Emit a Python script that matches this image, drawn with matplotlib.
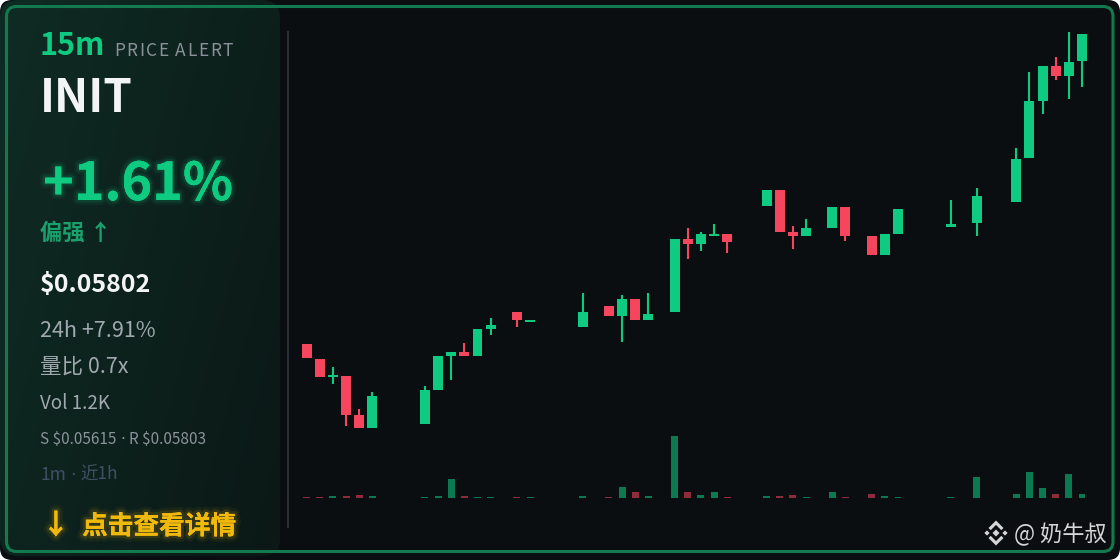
import numpy as np
import matplotlib
matplotlib.use("Agg")
import matplotlib.pyplot as plt
from matplotlib.patches import FancyBboxPatch, Polygon
import matplotlib.patheffects as pe

# 1m candles over the last hour, minute index (missing minutes = no trades)
minutes = [0, 1, 2, 3, 4, 5, 9, 10, 11, 12, 13, 14, 16, 17, 21, 23, 24, 25, 26, 28,
           29, 30, 31, 32, 35, 36, 37, 38, 40, 41, 43, 44, 45, 49, 51, 54, 55, 56, 57, 58, 59]
opens = [0.055850, 0.055747, 0.055619, 0.055628, 0.055353, 0.055264, 0.055292, 0.055530, 0.055764, 0.055794,
         0.055764, 0.055957, 0.056074, 0.056006, 0.055971, 0.056118, 0.056046, 0.056163, 0.056016, 0.056074,
         0.056587, 0.056548, 0.056606, 0.056618, 0.056814, 0.056928, 0.056634, 0.056606, 0.056664, 0.056811,
         0.056604, 0.056473, 0.056620, 0.056667, 0.056695, 0.056842, 0.057150, 0.057551, 0.057798, 0.057726,
         0.057831]
highs = [0.055850, 0.055747, 0.055689, 0.055628, 0.055395, 0.055514, 0.055556, 0.055766, 0.055794, 0.055855,
         0.055955, 0.056032, 0.056074, 0.056013, 0.056207, 0.056118, 0.056193, 0.056163, 0.056207, 0.056587,
         0.056664, 0.056634, 0.056692, 0.056618, 0.056928, 0.056928, 0.056678, 0.056723, 0.056811, 0.056811,
         0.056604, 0.056618, 0.056795, 0.056856, 0.056944, 0.057222, 0.057754, 0.057798, 0.057859, 0.058034,
         0.058020]
lows = [0.055752, 0.055617, 0.055570, 0.055278, 0.055264, 0.055264, 0.055292, 0.055530, 0.055600, 0.055764,
        0.055764, 0.055913, 0.055971, 0.056002, 0.055971, 0.056046, 0.055866, 0.056016, 0.056016, 0.056074,
        0.056443, 0.056503, 0.056606, 0.056487, 0.056814, 0.056636, 0.056515, 0.056606, 0.056664, 0.056573,
        0.056473, 0.056473, 0.056620, 0.056667, 0.056606, 0.056842, 0.057150, 0.057462, 0.057696, 0.057563,
        0.057651]
closes = [0.055752, 0.055617, 0.055633, 0.055353, 0.055264, 0.055486, 0.055528, 0.055766, 0.055794, 0.055764,
          0.055955, 0.055983, 0.056018, 0.056012, 0.056072, 0.056046, 0.056163, 0.056016, 0.056058, 0.056587,
          0.056548, 0.056618, 0.056618, 0.056562, 0.056928, 0.056636, 0.056606, 0.056662, 0.056811, 0.056606,
          0.056473, 0.056618, 0.056795, 0.056690, 0.056886, 0.057147, 0.057549, 0.057798, 0.057726, 0.057826,
          0.058020]
volumes = [26, 14, 46, 46, 66, 34, 14, 40, 374, 34, 14, 26, 14, 26, 46, 14, 226, 114, 34, 1234,
           114, 60, 126, 20, 46, 46, 54, 26, 126, 20, 74, 34, 14, 14, 420, 86, 526, 194, 86, 474,
           86]

GREEN = "#0ecb81"
RED = "#f6465d"
VGREEN = "#0b7a50"
VRED = "#8f2c3b"
BG = "#0b0e11"
YEL = "#f0b90b"

fig = plt.figure(figsize=(11.2, 5.6), dpi=100)
fig.patch.set_facecolor("white")

# background / decoration layer in pixel coords
bg = fig.add_axes([0, 0, 1, 1])
bg.set_xlim(0, 1120)
bg.set_ylim(560, 0)
bg.axis("off")

bg.add_patch(FancyBboxPatch((0, 0), 1120, 560, boxstyle="round,pad=0,rounding_size=12",
                            fc=BG, ec="none", zorder=0))

# left panel with a soft green gradient
panel = FancyBboxPatch((0, 0), 280, 556, boxstyle="round,pad=0,rounding_size=18",
                       fc="none", ec="none", zorder=1)
bg.add_patch(panel)
gx, gy = np.meshgrid(np.linspace(0, 1, 140), np.linspace(0, 1, 280))
t = np.clip(gx * 0.65 + gy * 0.35, 0, 1)[..., None]
c0 = np.array([0x0f, 0x2c, 0x24]) / 255
c1 = np.array([0x0b, 0x18, 0x16]) / 255
img = c0 * (1 - t) + c1 * t
im = bg.imshow(img, extent=(0, 280, 556, 0), aspect="auto", zorder=1)
im.set_clip_path(panel)
bg.set_xlim(0, 1120)
bg.set_ylim(560, 0)

# green card border
bg.add_patch(FancyBboxPatch((6.5, 6.5), 1106.5, 545, boxstyle="round,pad=0,rounding_size=10",
                            fc="none", ec="#137a50", lw=2.2, zorder=3))
# separator
bg.plot([288, 288], [32, 527], color="#2a2e35", lw=1.5, zorder=2)

cjk = ["Noto Sans CJK SC", "DejaVu Sans"]

fig.canvas.draw()
r = fig.canvas.get_renderer()


def run_text(x, y, parts, gap=0.0, **kw):
    # draw pieces one after another on the same baseline
    for s, fam in parts:
        if s == " ":
            x += kw.get("fontsize", 12) * 0.35
            continue
        tt = bg.text(x, y, s, family=fam, va="baseline", zorder=4, **kw)
        x += tt.get_window_extent(r).width + gap
    return x


bg.text(40, 55, "15m", color=GREEN, fontsize=22, fontweight="bold", family=cjk, va="baseline", zorder=4)
run_text(114, 56, [(ch, cjk) for ch in "PRICE ALERT"], gap=1.6, color="#8a9199", fontsize=12.5)

bg.text(40, 112, "INIT", color="#f2f4f5", fontsize=33, fontweight="bold", family=cjk, va="baseline", zorder=4)

glow_g = [pe.withStroke(linewidth=7, foreground=GREEN, alpha=0.07),
          pe.withStroke(linewidth=3.5, foreground=GREEN, alpha=0.12), pe.Normal()]
bg.text(43, 200, "+1.61%", color=GREEN, fontsize=37.5, fontweight="bold", family=cjk,
        va="baseline", zorder=4, path_effects=glow_g)
bg.text(40, 240, "偏强 ↑", color="#1aa06c", fontsize=16, fontweight="bold", family=cjk, va="baseline", zorder=4)
bg.text(40, 292, "\\$0.05802", color="#f2f4f5", fontsize=18, fontweight="bold", family=cjk, va="baseline", zorder=4)
bg.text(40, 337, "24h +7.91%", color="#a0a8b0", fontsize=15.5, family=cjk, va="baseline", zorder=4)
bg.text(40, 373, "量比 0.7x", color="#a0a8b0", fontsize=15.5, family=cjk, va="baseline", zorder=4)
bg.text(40, 409, "Vol 1.2K", color="#a0a8b0", fontsize=13.5, family=cjk, va="baseline", zorder=4)
run_text(40, 444, [("S \\$0.05615", cjk), (" ", cjk), ("·", ["DejaVu Sans"]), (" ", cjk), ("R \\$0.05803", cjk)],
         color="#8a929a", fontsize=11)
run_text(40, 480, [("1m", cjk), (" ", cjk), ("·", ["DejaVu Sans"]), (" ", cjk), ("近1h", cjk)],
         color="#3f5066", fontsize=12.5)

glow_y = [pe.withStroke(linewidth=8, foreground=YEL, alpha=0.06),
          pe.withStroke(linewidth=4, foreground=YEL, alpha=0.12), pe.Normal()]
bg.text(42, 534, "↓", color=YEL, fontsize=20, fontweight="bold", family=cjk, va="baseline",
        zorder=4, path_effects=glow_y)
bg.text(82, 534, "点击查看详情", color=YEL, fontsize=18.5, fontweight="bold", family=cjk,
        va="baseline", zorder=4, path_effects=glow_y)

# watermark with a small exchange logo
lx, ly = 996, 533
WM = "#d6d6d6"


def diamond(cx, cy, h):
    return Polygon([(cx, cy - h), (cx + h, cy), (cx, cy + h), (cx - h, cy)], closed=True, fc=WM, ec="none", zorder=4)


bg.add_patch(diamond(lx, ly, 3.5))
bg.add_patch(diamond(lx - 9, ly, 2.6))
bg.add_patch(diamond(lx + 9, ly, 2.6))
bg.add_patch(Polygon([(lx - 7.5, ly - 5), (lx, ly - 12.5), (lx + 7.5, ly - 5), (lx + 5.3, ly - 2.8),
                      (lx, ly - 8.1), (lx - 5.3, ly - 2.8)], closed=True, fc=WM, ec="none", zorder=4))
bg.add_patch(Polygon([(lx - 7.5, ly + 5), (lx, ly + 12.5), (lx + 7.5, ly + 5), (lx + 5.3, ly + 2.8),
                      (lx, ly + 8.1), (lx - 5.3, ly + 2.8)], closed=True, fc=WM, ec="none", zorder=4))
bg.text(1014, 541, "@ 奶牛叔", color=WM, fontsize=16, family=cjk, va="baseline", zorder=4)

# price axes
W = 1120.0
H = 560.0
ax = fig.add_axes([293 / W, 1 - 440 / H, 802 / W, 420 / H])
ax.set_facecolor("none")
ax.set_xlim(-1.04, 59.99)
ax.set_ylim(0.055178, 0.058118)
ax.axis("off")

o = np.array(opens)
c = np.array(closes)
up = c >= o
cols = np.where(up, GREEN, RED)
body_lo = np.minimum(o, c)
body_h = np.maximum(np.abs(c - o), 0.0000115)
ax.vlines(minutes, lows, highs, colors=cols, lw=1.5, zorder=2)
ax.bar(minutes, body_h, bottom=body_lo, width=0.76, color=cols, lw=0, zorder=3)

# volume axes
vax = fig.add_axes([293 / W, 1 - 498 / H, 802 / W, 80 / H])
vax.set_facecolor("none")
vax.set_xlim(-1.04, 59.99)
vax.set_ylim(0, 1600)
vax.axis("off")
vcols = np.where(up, VGREEN, VRED)
vax.bar(minutes, np.maximum(volumes, 20), width=0.53, color=vcols, lw=0)

fig.savefig("out.png", dpi=100, facecolor=fig.get_facecolor())
